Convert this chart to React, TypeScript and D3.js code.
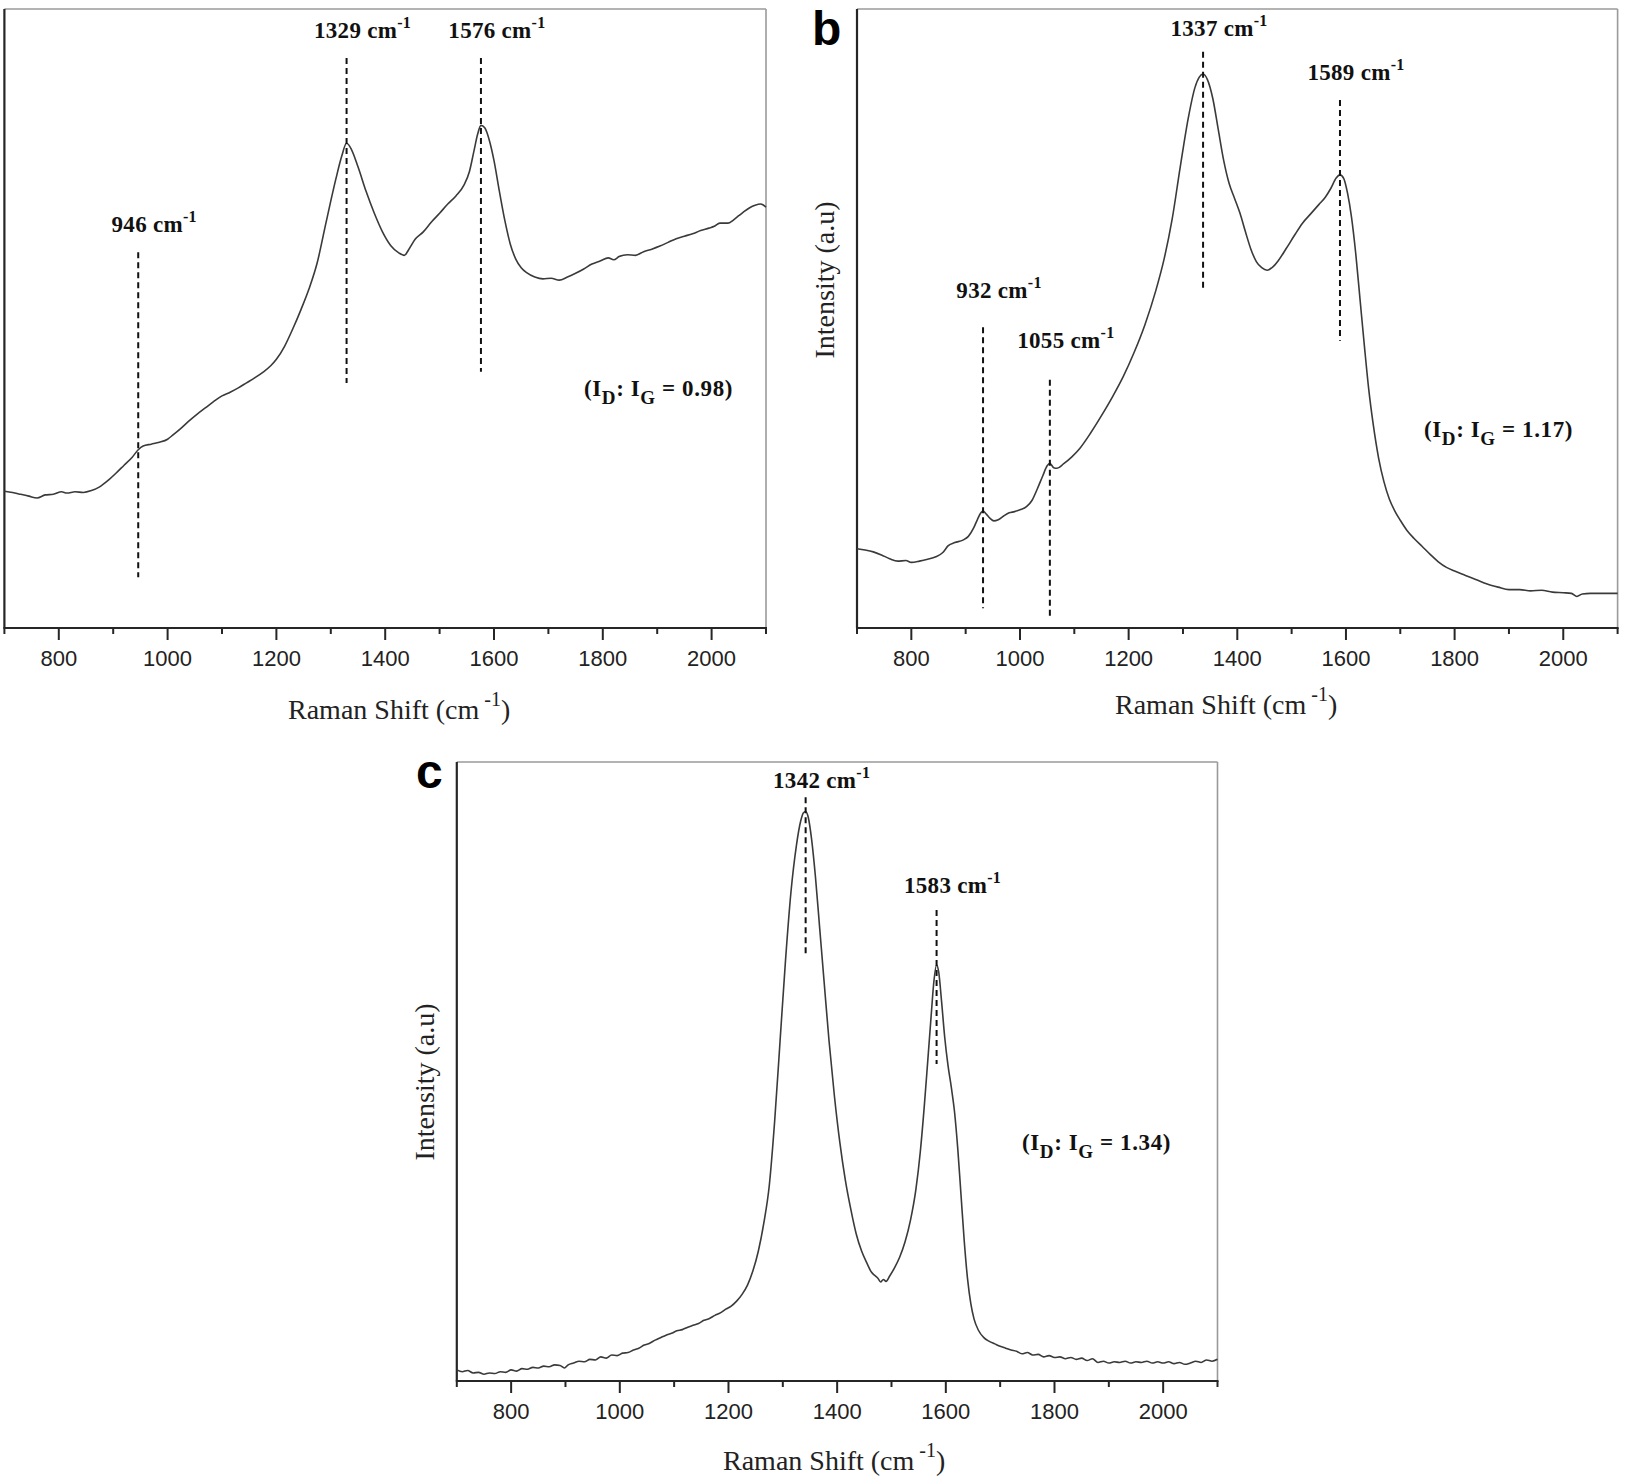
import React from "react";
import * as d3 from "d3";

// Raman shift axis (cm^-1)
const X_DOMAIN: [number, number] = [700, 2100];
const MAJOR_TICKS = [800, 1000, 1200, 1400, 1600, 1800, 2000];
const MINOR_TICKS = [700, 900, 1100, 1300, 1500, 1700, 1900, 2100];

// Sample (a) spectrum
const shiftA = [700, 715, 730, 745, 760, 775, 790, 805, 815, 830, 845, 860, 875, 890, 905, 920, 935, 946, 955, 970, 985, 1000, 1010, 1025, 1040, 1055, 1070, 1085, 1100, 1115, 1130, 1145, 1160, 1175, 1190, 1200, 1215, 1230, 1245, 1260, 1275, 1290, 1300, 1310, 1320, 1329, 1338, 1350, 1365, 1380, 1395, 1410, 1425, 1435, 1445, 1455, 1470, 1485, 1500, 1515, 1530, 1545, 1555, 1563, 1570, 1576, 1583, 1592, 1600, 1610, 1620, 1630, 1640, 1650, 1660, 1675, 1690, 1705, 1720, 1735, 1750, 1765, 1780, 1795, 1810, 1820, 1830, 1845, 1860, 1875, 1890, 1905, 1920, 1935, 1950, 1965, 1980, 1995, 2005, 2015, 2030, 2040, 2050, 2060, 2070, 2080, 2090, 2100];
const intensityA = [22.1, 21.9, 21.6, 21.3, 21.0, 21.5, 21.6, 22.0, 21.8, 22.0, 21.9, 22.2, 22.8, 23.8, 25.0, 26.3, 27.6, 28.8, 29.4, 29.7, 30.0, 30.5, 31.2, 32.3, 33.5, 34.6, 35.6, 36.6, 37.5, 38.1, 38.8, 39.6, 40.4, 41.3, 42.4, 43.4, 45.5, 48.3, 51.4, 54.8, 59.0, 65.0, 69.0, 72.8, 76.2, 78.3, 77.3, 74.5, 70.5, 67.0, 64.0, 61.8, 60.6, 60.2, 61.4, 62.8, 64.0, 65.6, 67.0, 68.5, 69.8, 71.6, 73.8, 77.0, 79.8, 81.2, 80.8, 78.6, 75.5, 70.5, 65.8, 62.0, 59.6, 58.2, 57.4, 56.7, 56.4, 56.5, 56.2, 56.7, 57.3, 58.0, 58.8, 59.3, 59.8, 59.5, 60.0, 60.3, 60.2, 60.8, 61.2, 61.7, 62.3, 62.9, 63.3, 63.7, 64.2, 64.6, 64.9, 65.4, 65.4, 65.9, 66.6, 67.3, 67.9, 68.3, 68.5, 68.0];

// Sample (b) spectrum
const shiftB = [700, 715, 730, 745, 760, 775, 790, 800, 815, 830, 845, 858, 868, 880, 895, 905, 915, 922, 928, 932, 938, 945, 952, 960, 970, 980, 990, 1000, 1012, 1022, 1032, 1042, 1050, 1055, 1062, 1068, 1080, 1095, 1110, 1130, 1150, 1170, 1190, 1210, 1230, 1250, 1265, 1280, 1295, 1310, 1322, 1330, 1337, 1345, 1355, 1365, 1375, 1385, 1395, 1405, 1415, 1425, 1435, 1445, 1455, 1465, 1475, 1490, 1505, 1520, 1535, 1550, 1562, 1572, 1582, 1589, 1596, 1603, 1610, 1618, 1626, 1634, 1642, 1650, 1660, 1670, 1680, 1690, 1700, 1712, 1725, 1740, 1755, 1770, 1785, 1800, 1820, 1840, 1860, 1880, 1900, 1920, 1940, 1960, 1980, 2000, 2015, 2025, 2035, 2050, 2070, 2100];
const intensityB = [12.8, 12.6, 12.3, 11.8, 11.2, 10.8, 10.9, 10.6, 10.8, 11.1, 11.5, 12.2, 13.3, 13.8, 14.2, 14.8, 16.2, 17.6, 18.6, 18.9, 18.4, 17.7, 17.3, 17.5, 18.1, 18.6, 18.8, 19.1, 19.6, 20.6, 22.5, 24.6, 26.2, 26.6, 25.9, 25.8, 26.5, 27.6, 29.0, 31.5, 34.3, 37.3, 40.6, 44.5, 49.0, 54.5, 59.5, 66.0, 74.5, 82.5, 87.3, 89.0, 89.5, 88.6, 85.5, 80.5, 75.5, 71.8, 69.4, 67.0, 64.0, 61.2, 59.2, 58.2, 57.8, 58.3, 59.3, 61.3, 63.4, 65.4, 66.9, 68.4, 69.6, 71.0, 72.7, 73.2, 72.6, 70.2, 66.5, 60.5, 53.0, 45.5, 38.5, 33.0, 27.5, 23.6, 20.8, 18.9, 17.4, 15.8, 14.5, 13.2, 11.9, 10.7, 9.8, 9.2, 8.5, 7.8, 7.1, 6.6, 6.2, 6.2, 6.0, 6.1, 5.8, 5.7, 5.6, 5.1, 5.5, 5.6, 5.6, 5.6];

// Sample (c) spectrum
const shiftC = [700, 710, 720, 730, 740, 750, 760, 770, 780, 790, 800, 810, 820, 830, 840, 850, 860, 870, 880, 890, 898, 905, 915, 925, 935, 945, 955, 965, 975, 985, 995, 1005, 1015, 1025, 1035, 1045, 1055, 1065, 1075, 1085, 1095, 1105, 1115, 1125, 1135, 1145, 1155, 1165, 1175, 1185, 1195, 1205, 1215, 1225, 1235, 1245, 1255, 1265, 1275, 1285, 1295, 1305, 1315, 1325, 1333, 1338, 1342, 1347, 1353, 1360, 1368, 1376, 1385, 1395, 1405, 1415, 1425, 1435, 1445, 1455, 1463, 1470, 1475, 1480, 1485, 1490, 1497, 1505, 1515, 1525, 1535, 1545, 1553, 1560, 1567, 1573, 1578, 1583, 1587, 1592, 1598, 1604, 1610, 1616, 1622, 1628, 1634, 1640, 1646, 1652, 1660, 1670, 1680, 1690, 1700, 1710, 1720, 1730, 1740, 1750, 1760, 1770, 1780, 1790, 1800, 1810, 1820, 1830, 1840, 1850, 1860, 1870, 1880, 1890, 1900, 1910, 1920, 1930, 1940, 1950, 1960, 1970, 1980, 1990, 2000, 2010, 2020, 2030, 2040, 2050, 2060, 2070, 2080, 2090, 2100];
const intensityC = [1.8, 1.5, 1.7, 1.3, 1.4, 1.1, 1.3, 1.2, 1.5, 1.4, 1.8, 1.6, 2.0, 1.9, 2.2, 2.1, 2.4, 2.3, 2.6, 2.5, 2.1, 2.6, 2.9, 3.2, 3.1, 3.5, 3.4, 3.9, 3.7, 4.2, 4.1, 4.5, 4.6, 5.0, 5.3, 5.8, 6.1, 6.6, 7.0, 7.4, 7.7, 8.1, 8.3, 8.7, 9.0, 9.3, 9.8, 10.1, 10.6, 11.0, 11.6, 12.1, 12.9, 14.0, 15.5, 17.8, 21.0, 25.5, 31.5, 42.0, 55.0, 68.0, 79.0, 86.5, 90.5, 91.8, 92.0, 91.0, 87.5, 81.5, 73.0, 64.5, 55.0, 46.0, 38.5, 32.5, 27.8, 23.8, 21.0, 19.0, 17.6, 17.0, 16.6, 16.0, 16.4, 16.1, 17.0, 18.2, 20.0, 22.5, 26.0, 31.0, 37.0, 44.0, 52.0, 59.0, 64.5, 67.2, 66.0, 61.5, 55.5, 51.0, 47.5, 43.5, 37.5, 30.0, 22.5, 16.5, 12.5, 10.0, 8.2, 7.0, 6.4, 6.0, 5.6, 5.3, 5.0, 4.8, 4.4, 4.6, 4.2, 4.3, 3.9, 4.1, 3.8, 3.9, 3.6, 3.8, 3.5, 3.7, 3.3, 3.6, 3.0, 3.2, 2.9, 3.1, 3.0, 3.2, 2.9, 3.1, 3.0, 3.2, 2.9, 3.1, 2.9, 3.1, 2.8, 3.0, 2.7, 2.9, 3.2, 3.0, 3.4, 3.2, 3.5];

// Marked band positions (cm^-1) and the intensity span of each marker line
const peaksA = [946, 1329, 1576];
const peakTopA = [60.7, 92.1, 92.1];
const peakBottomA = [8.2, 39.6, 41.4];
const peaksB = [932, 1055, 1337, 1589];
const peakTopB = [48.6, 40.1, 93.1, 85.3];
const peakBottomB = [3.2, 1.5, 54.9, 46.4];
const peaksC = [1342, 1583];
const peakTopC = [94.3, 76.1];
const peakBottomC = [69.0, 51.2];

// I_D : I_G ratios
const ratioA = "0.98";
const ratioB = "1.17";
const ratioC = "1.34";

const SERIF = "'Liberation Serif', 'Times New Roman', Times, serif";
const SANS = "'Liberation Sans', Arial, Helvetica, sans-serif";

type PanelProps = {
  box: { left: number; right: number; top: number; bottom: number };
  shift: number[];
  intensity: number[];
  peaks: number[];
  peakTop: number[];
  peakBottom: number[];
  labelGap: number[];
  ratio: string;
  ratioPos: [number, number];
  xTitlePos: [number, number];
  yTitlePos?: [number, number];
  letter?: { text: string; x: number; y: number };
};

function Panel(p: PanelProps) {
  const { box } = p;
  const x = d3.scaleLinear().domain(X_DOMAIN).range([box.left, box.right]);
  const y = d3.scaleLinear().domain([0, 100]).range([box.bottom, box.top]);
  const pts: [number, number][] = p.shift.map((s, i) => [s, p.intensity[i]]);
  const line = d3
    .line<[number, number]>()
    .x((d) => x(d[0]))
    .y((d) => y(d[1]))
    .curve(d3.curveMonotoneX);

  return (
    <g>
      {/* frame */}
      <line x1={box.left} x2={box.right} y1={box.top} y2={box.top} stroke="#9a9a9a" strokeWidth={1.6} />
      <line x1={box.right} x2={box.right} y1={box.top} y2={box.bottom} stroke="#9a9a9a" strokeWidth={1.6} />
      <line x1={box.left} x2={box.left} y1={box.top} y2={box.bottom} stroke="#262626" strokeWidth={2.2} />
      <line x1={box.left - 1} x2={box.right + 1} y1={box.bottom} y2={box.bottom} stroke="#262626" strokeWidth={2.2} />

      {/* ticks */}
      {MAJOR_TICKS.map((t) => (
        <g key={"M" + t}>
          <line x1={x(t)} x2={x(t)} y1={box.bottom} y2={box.bottom + 12} stroke="#262626" strokeWidth={2} />
          <text x={x(t)} y={box.bottom + 38} textAnchor="middle" fontFamily={SANS} fontSize={22} fill="#222">
            {t}
          </text>
        </g>
      ))}
      {MINOR_TICKS.map((t) => (
        <line key={"m" + t} x1={x(t)} x2={x(t)} y1={box.bottom} y2={box.bottom + 6} stroke="#262626" strokeWidth={2} />
      ))}

      {/* spectrum */}
      <path d={line(pts) || ""} fill="none" stroke="#3a3a3a" strokeWidth={1.6} strokeLinejoin="round" />

      {/* band markers */}
      {p.peaks.map((pk, i) => (
        <g key={"p" + pk}>
          <line
            x1={x(pk)}
            x2={x(pk)}
            y1={y(p.peakTop[i])}
            y2={y(p.peakBottom[i])}
            stroke="#111"
            strokeWidth={2}
            strokeDasharray="6,4"
          />
          <text
            x={x(pk) + 16}
            y={y(p.peakTop[i]) - p.labelGap[i]}
            textAnchor="middle"
            fontFamily={SERIF}
            fontWeight="bold"
            fontSize={23}
            letterSpacing={0.3}
            fill="#111"
          >
            <tspan>{pk} cm</tspan>
            <tspan dy={-10} fontSize={16}>-1</tspan>
          </text>
        </g>
      ))}

      {/* intensity ratio */}
      <text
        x={p.ratioPos[0]}
        y={p.ratioPos[1]}
        fontFamily={SERIF}
        fontWeight="bold"
        fontSize={23}
        letterSpacing={0.6}
        fill="#111"
      >
        <tspan>(I</tspan>
        <tspan dy={8} fontSize={19}>D</tspan>
        <tspan dy={-8}>: I</tspan>
        <tspan dy={8} fontSize={19}>G</tspan>
        <tspan dy={-8}> = {p.ratio})</tspan>
      </text>

      {/* axis titles */}
      <text x={p.xTitlePos[0]} y={p.xTitlePos[1]} fontFamily={SERIF} fontSize={28} fill="#222">
        <tspan>Raman Shift (cm</tspan>
        <tspan dy={-13} fontSize={20}> -1</tspan>
        <tspan dy={13}>)</tspan>
      </text>
      {p.yTitlePos && (
        <text
          transform={`translate(${p.yTitlePos[0]},${p.yTitlePos[1]}) rotate(-90)`}
          textAnchor="middle"
          fontFamily={SERIF}
          fontSize={28}
          fill="#222"
        >
          Intensity (a.u)
        </text>
      )}

      {p.letter && (
        <text x={p.letter.x} y={p.letter.y} fontFamily={SANS} fontWeight="bold" fontSize={48} fill="#000">
          {p.letter.text}
        </text>
      )}
    </g>
  );
}

export default function App() {
  return (
    <svg
      width={1644}
      height={1480}
      viewBox="0 0 1644 1480"
      style={{ position: "absolute", left: 0, top: 0, background: "#fff" }}
    >
      <rect x={0} y={0} width={1644} height={1480} fill="#fff" />
      <Panel
        box={{ left: 4.4, right: 766, top: 9, bottom: 628 }}
        shift={shiftA}
        intensity={intensityA}
        peaks={peaksA}
        peakTop={peakTopA}
        peakBottom={peakBottomA}
        labelGap={[20, 20, 20]}
        ratio={ratioA}
        ratioPos={[584, 396]}
        xTitlePos={[288, 719]}
      />
      <Panel
        box={{ left: 857, right: 1617.6, top: 9, bottom: 628 }}
        shift={shiftB}
        intensity={intensityB}
        peaks={peaksB}
        peakTop={peakTopB}
        peakBottom={peakBottomB}
        labelGap={[29, 32, 16, 20]}
        ratio={ratioB}
        ratioPos={[1424, 437]}
        xTitlePos={[1115, 714]}
        yTitlePos={[834, 280]}
        letter={{ text: "b", x: 812, y: 45 }}
      />
      <Panel
        box={{ left: 456.8, right: 1217.5, top: 762, bottom: 1381 }}
        shift={shiftC}
        intensity={intensityC}
        peaks={peaksC}
        peakTop={peakTopC}
        peakBottom={peakBottomC}
        labelGap={[9, 17]}
        ratio={ratioC}
        ratioPos={[1022, 1150]}
        xTitlePos={[723, 1470]}
        yTitlePos={[434, 1082]}
        letter={{ text: "c", x: 416, y: 788 }}
      />
    </svg>
  );
}
